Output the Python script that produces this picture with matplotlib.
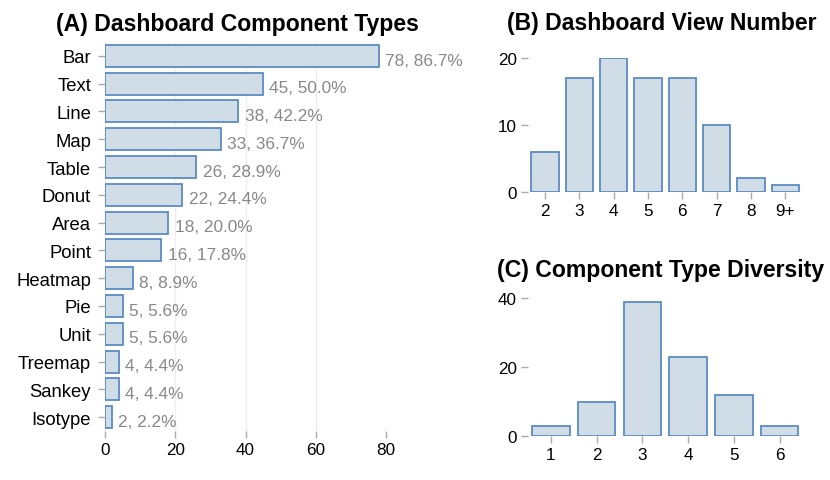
import numpy as np
import matplotlib
matplotlib.use('Agg')
from matplotlib import pyplot as plt

plt.rcParams['font.family'] = ['Liberation Sans', 'DejaVu Sans']

# (A) component types
types = ['Bar', 'Text', 'Line', 'Map', 'Table', 'Donut', 'Area', 'Point',
         'Heatmap', 'Pie', 'Unit', 'Treemap', 'Sankey', 'Isotype']
type_counts = [78, 45, 38, 33, 26, 22, 18, 16, 8, 5, 5, 4, 4, 2]
total_dashboards = 90

# (B) number of views per dashboard
view_labels = ['2', '3', '4', '5', '6', '7', '8', '9+']
view_counts = [6, 17, 20, 17, 17, 10, 2, 1]

# (C) number of distinct component types
diversity_labels = ['1', '2', '3', '4', '5', '6']
diversity_counts = [3, 10, 39, 23, 12, 3]

FILL = '#d0dce6'
EDGE = '#5a8cc2'
W, H = 830, 481


def px_axes(fig, left, top, right, bottom):
    return fig.add_axes([left / W, 1 - bottom / H, (right - left) / W, (bottom - top) / H])


def clean(ax):
    for s in ax.spines.values():
        s.set_visible(False)
    ax.tick_params(length=5, width=1, color='#aaaaaa', labelsize=12.3, labelcolor='black', pad=3)


fig = plt.figure(figsize=(W / 100, H / 100), dpi=100)

# ---- panel A
axA = px_axes(fig, 105, 43, 386, 432)
y = np.arange(len(types))
axA.barh(y, type_counts, height=0.79, color=FILL, edgecolor=EDGE, linewidth=1.3, zorder=2)
axA.set_ylim(len(types) - 0.5, -0.5)
axA.set_xlim(0, 80)
axA.set_xticks([0, 20, 40, 60, 80])
axA.set_yticks(y)
axA.set_yticklabels(types)
axA.grid(axis='x', color='#eeeeee', linewidth=1, zorder=0)
clean(axA)
axA.tick_params(axis='y', labelsize=13.3, pad=5)
for i, v in enumerate(type_counts):
    pct = v / total_dashboards * 100
    axA.text(v + 1.8, i + 0.15, '{}, {:.1f}%'.format(v, pct), color='#888888',
             fontsize=12.4, va='center', ha='left', clip_on=False)

# ---- panel B
axB = px_axes(fig, 528, 58.7, 802.4, 192.7)
xb = np.arange(len(view_labels))
axB.bar(xb, view_counts, width=0.8, color=FILL, edgecolor=EDGE, linewidth=1.3)
axB.set_xlim(-0.5, len(view_labels) - 0.5)
axB.set_ylim(0, 20)
axB.set_yticks([0, 10, 20])
axB.set_xticks(xb)
axB.set_xticklabels(view_labels)
clean(axB)

# ---- panel C
axC = px_axes(fig, 528, 299.3, 802.4, 437.3)
xc = np.arange(len(diversity_labels))
axC.bar(xc, diversity_counts, width=0.82, color=FILL, edgecolor=EDGE, linewidth=1.3)
axC.set_xlim(-0.5, len(diversity_labels) - 0.5)
axC.set_ylim(0, 40)
axC.set_yticks([0, 20, 40])
axC.set_xticks(xc)
axC.set_xticklabels(diversity_labels)
clean(axC)

# titles
fig.text(237 / W, 1 - 30.7 / H, '(A) Dashboard Component Types', fontsize=16.6,
         fontweight='bold', ha='center', va='baseline')
fig.text(661.7 / W, 1 - 30 / H, '(B) Dashboard View Number', fontsize=16.6,
         fontweight='bold', ha='center', va='baseline')
fig.text(660 / W, 1 - 277.3 / H, '(C) Component Type Diversity', fontsize=16.6,
         fontweight='bold', ha='center', va='baseline')

fig.savefig('out.png', dpi=100)
